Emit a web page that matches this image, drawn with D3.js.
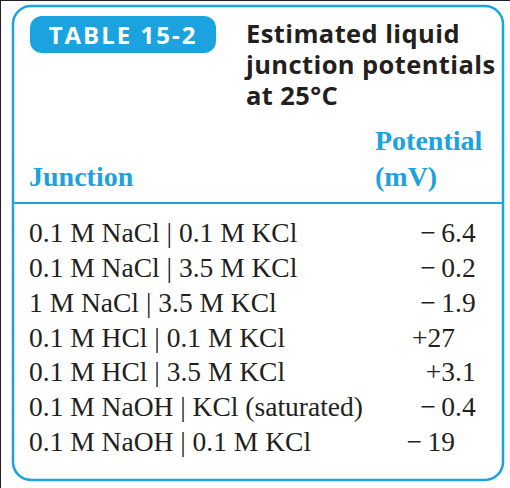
<!DOCTYPE html>
<html><head><meta charset="utf-8">
<script src="https://cdn.jsdelivr.net/npm/d3@7.9.0/dist/d3.min.js"></script>
<style>body{margin:0;background:#fff}</style>
</head><body>
<svg width="510" height="488"></svg>
<script>
const junctions = ['0.1 M NaCl  |  0.1 M KCl', '0.1 M NaCl  |  3.5 M KCl', '1 M NaCl  |  3.5 M KCl',
  '0.1 M HCl  |  0.1 M KCl', '0.1 M HCl  |  3.5 M KCl', '0.1 M NaOH  |  KCl (saturated)', '0.1 M NaOH  |  0.1 M KCl'];
const potentials = ['\u22126.4', '\u22120.2', '\u22121.9', '+27', '+3.1', '\u22120.4', '\u221219'];
const titleLines = ['Estimated liquid', 'junction potentials', 'at 25\u00b0C'];

const blue = '#1ba3e0';
const svg = d3.select('svg');
svg.append('rect').attr('x', 0.5).attr('y', 0.5).attr('width', 520).attr('height', 500)
  .attr('fill', 'none').attr('stroke', '#222');
svg.append('rect').attr('x', 13).attr('y', 6).attr('width', 490).attr('height', 474).attr('rx', 18)
  .attr('fill', 'none').attr('stroke', blue).attr('stroke-width', 2.5);
svg.append('rect').attr('x', 30).attr('y', 16).attr('width', 186).attr('height', 37).attr('rx', 12).attr('fill', blue);
svg.append('text').attr('x', 123).attr('y', 44).attr('text-anchor', 'middle')
  .attr('font-family', 'Open Sans').attr('font-weight', 700).attr('font-size', 24)
  .attr('letter-spacing', 2).attr('fill', '#fff').text('TABLE 15-2');
svg.append('g').selectAll('text').data(titleLines).join('text')
  .attr('x', 246).attr('y', (d, i) => 43 + i * 31)
  .attr('font-family', 'Open Sans').attr('font-weight', 700).attr('font-size', 25.5)
  .attr('letter-spacing', 0.4).attr('fill', '#231f20')
  .text(d => d);

const head = svg.append('g').attr('font-family', 'Liberation Serif').attr('font-weight', 700)
  .attr('font-size', 28).attr('fill', blue);
head.append('text').attr('x', 375).attr('y', 150).text('Potential');
head.append('text').attr('x', 375).attr('y', 186).text('(mV)');
head.append('text').attr('x', 29).attr('y', 186).text('Junction');
svg.append('line').attr('x1', 14).attr('x2', 502).attr('y1', 203).attr('y2', 203)
  .attr('stroke', blue).attr('stroke-width', 2);

const y = d3.scaleBand().domain(d3.range(junctions.length)).range([215, 458]);
const rows = svg.append('g').attr('font-family', 'Liberation Serif').attr('font-size', 27.5).attr('fill', '#231f20')
  .attr('xml:space', 'preserve').style('white-space', 'pre')
  .selectAll('g').data(junctions).join('g')
  .attr('transform', (d, i) => `translate(0,${y(i) + y.bandwidth() / 2 + 10})`);
rows.append('text').attr('x', 29).text(d => d);
rows.append('text').attr('x', 455).attr('text-anchor', 'end')
  .text((d, i) => potentials[i].split('.')[0].replace('\u2212', '\u2212\u2009'));
rows.append('text').attr('x', 455)
  .text((d, i) => potentials[i].includes('.') ? '.' + potentials[i].split('.')[1] : '');
</script>
</body></html>
